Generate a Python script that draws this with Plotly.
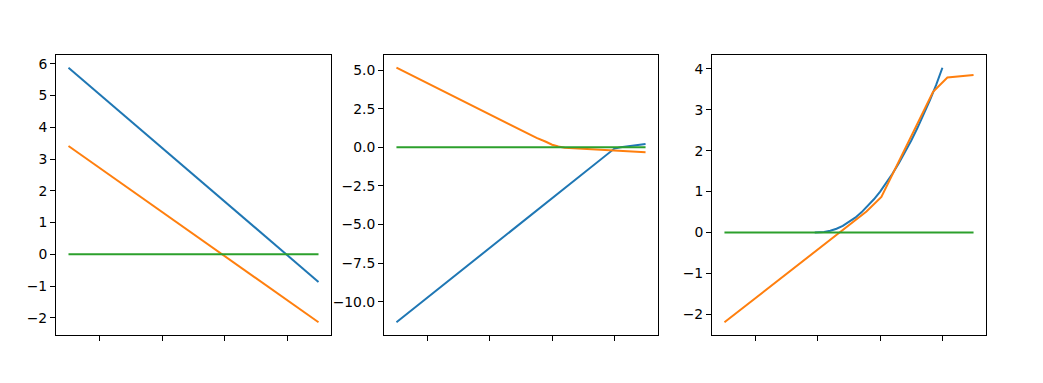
import plotly.graph_objects as go

# ---------------- data ----------------
# panel 1
p1_blue_x = [-0.5, 3.5]
p1_blue_y = [5.876, -0.87]
p1_orange_x = [-0.5, 3.5]
p1_orange_y = [3.41, -2.14]
p1_green_x = [-0.5, 3.5]
p1_green_y = [0.0, 0.0]

# panel 2
p2_blue_x = [-0.5, 2.9, 2.95, 3.0, 3.1, 3.5]
p2_blue_y = [-11.32, -0.35, -0.2, -0.08, 0.0, 0.22]
p2_orange_x = [-0.5, 1.45, 1.6, 1.75, 1.9, 2.0, 2.1, 2.2, 3.5]
p2_orange_y = [5.15, 1.18, 0.88, 0.61, 0.36, 0.17, 0.05, -0.02, -0.32]
p2_green_x = [-0.5, 3.5]
p2_green_y = [0.0, 0.0]

# panel 3
p3_blue_x = [0.95, 1.0, 1.1, 1.2, 1.3, 1.4, 1.5, 1.6, 1.7, 1.8, 1.9, 2.0,
             2.1, 2.2, 2.3, 2.4, 2.5, 2.6, 2.7, 2.8, 2.9, 3.0]
p3_blue_y = [0.0, 0.0, 0.01, 0.04, 0.09, 0.16, 0.25, 0.36, 0.49, 0.64, 0.81, 1.0,
             1.21, 1.44, 1.69, 1.96, 2.25, 2.56, 2.89, 3.24, 3.61, 4.03]
p3_orange_x = [-0.5, 1.78, 2.02, 2.85, 3.08, 3.5]
p3_orange_y = [-2.2, 0.51, 0.87, 3.44, 3.79, 3.85]
p3_green_x = [-0.5, 3.5]
p3_green_y = [0.0, 0.0]

x_ticks = [0, 1, 2, 3]
p1_yticks = [6, 5, 4, 3, 2, 1, 0, -1, -2]
p1_ylabels = ["6", "5", "4", "3", "2", "1", "0", "−1", "−2"]
p2_yticks = [5.0, 2.5, 0.0, -2.5, -5.0, -7.5, -10.0]
p2_ylabels = ["5.0", "2.5", "0.0", "−2.5", "−5.0", "−7.5", "−10.0"]
p3_yticks = [4, 3, 2, 1, 0, -1, -2]
p3_ylabels = ["4", "3", "2", "1", "0", "−1", "−2"]

BLUE, ORANGE, GREEN = "#1f77b4", "#ff7f0e", "#2ca02c"

panels = [
    (p1_blue_x, p1_blue_y, p1_orange_x, p1_orange_y, p1_green_x, p1_green_y, p1_yticks, p1_ylabels),
    (p2_blue_x, p2_blue_y, p2_orange_x, p2_orange_y, p2_green_x, p2_green_y, p2_yticks, p2_ylabels),
    (p3_blue_x, p3_blue_y, p3_orange_x, p3_orange_y, p3_green_x, p3_green_y, p3_yticks, p3_ylabels),
]

W, H = 1043, 383
x_domains = [(56 / W, 331 / W), (384 / W, 658 / W), (712 / W, 986 / W)]
y_domain = (1 - 335 / H, 1 - 55 / H)

fig = go.Figure()
layout = dict(
    width=W, height=H, margin=dict(l=0, r=0, t=0, b=0),
    paper_bgcolor="white", plot_bgcolor="white", showlegend=False,
    font=dict(family="DejaVu Sans", size=13.9, color="black"),
)

for i, (bx, by, ox, oy, gx, gy, yt, yl) in enumerate(panels):
    n = "" if i == 0 else str(i + 1)
    xa, ya = "x" + n, "y" + n
    for xs, ys, c in [(bx, by, BLUE), (ox, oy, ORANGE), (gx, gy, GREEN)]:
        fig.add_trace(go.Scatter(x=xs, y=ys, mode="lines", line=dict(color=c, width=2),
                                 xaxis=xa, yaxis=ya, hoverinfo="skip"))
    allx = bx + ox + gx
    ally = by + oy + gy
    xmin, xmax = min(allx), max(allx)
    ymin, ymax = min(ally), max(ally)
    xp, yp = 0.05 * (xmax - xmin), 0.05 * (ymax - ymin)
    layout["xaxis" + n] = dict(
        domain=list(x_domains[i]), anchor=ya, range=[xmin - xp, xmax + xp],
        tickvals=x_ticks, ticktext=["" for _ in x_ticks], ticks="outside", ticklen=5,
        tickwidth=1, tickcolor="black", showgrid=False, zeroline=False,
        showline=True, linecolor="black", linewidth=1, mirror=True,
    )
    layout["yaxis" + n] = dict(
        domain=list(y_domain), anchor=xa, range=[ymin - yp, ymax + yp],
        tickvals=yt, ticktext=yl, ticks="outside", ticklen=5,
        tickwidth=1, tickcolor="black", showgrid=False, zeroline=False,
        showline=True, linecolor="black", linewidth=1, mirror=True,
    )

fig.update_layout(**layout)
fig.write_html("out.html")
